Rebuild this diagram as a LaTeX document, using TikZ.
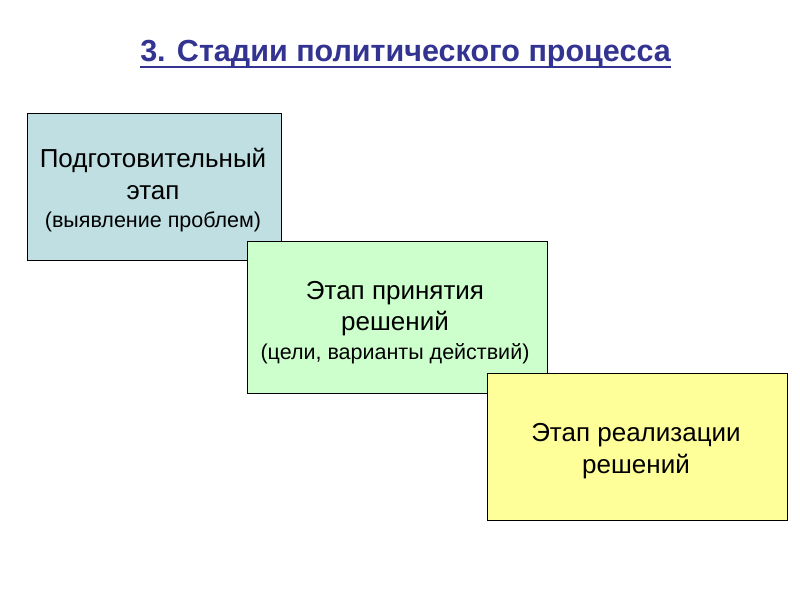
\documentclass[tikz,border=0pt]{standalone}
\usepackage{fontspec}
\setmainfont{Liberation Sans}
\definecolor{titleblue}{HTML}{333391}
\definecolor{stageblue}{HTML}{BFDFE2}
\definecolor{stagegreen}{HTML}{CCFFCC}
\definecolor{stageyellow}{HTML}{FFFF99}
\tikzset{
  big/.style={font=\fontsize{26}{31.5}\selectfont, align=center, inner sep=0pt},
}
\newcommand{\parensize}{\fontsize{21.5}{26}\selectfont}
\begin{document}
\begin{tikzpicture}[x=1pt, y=-1pt]
    \useasboundingbox (0, 0) rectangle (800, 600);

    \node[text=titleblue, font=\fontsize{30.5}{34}\selectfont\bfseries, inner sep=0pt, anchor=base] (title) at (405.5, 61.5)
        {3. Стадии политического процесса};
    \draw[titleblue, line width=2pt] ([yshift=-5pt]title.base west) -- ([yshift=-5pt]title.base east);

    \draw[fill=stageblue, line width=0.9pt] (27, 113) rectangle (281, 260) node[midway] (prep) {};
    \node[big] (preptext) at (153, 190.5)
        {Подготовительный\\этап\\[-3pt]{\parensize (выявление проблем)}};

    \draw[fill=stagegreen, line width=0.9pt] (247, 241) rectangle (547, 393) node[midway] (decide) {};
    \node[big] (decidetext) at (395, 322.5)
        {Этап принятия\\решений\\[-3pt]{\parensize (цели, варианты действий)}};

    \draw[fill=stageyellow, line width=0.9pt] (487, 373) rectangle (787, 520) node[midway] (impl) {};
    \node[big] (impltext) at (636, 451)
        {Этап реализации\\решений};
\end{tikzpicture}
\end{document}
